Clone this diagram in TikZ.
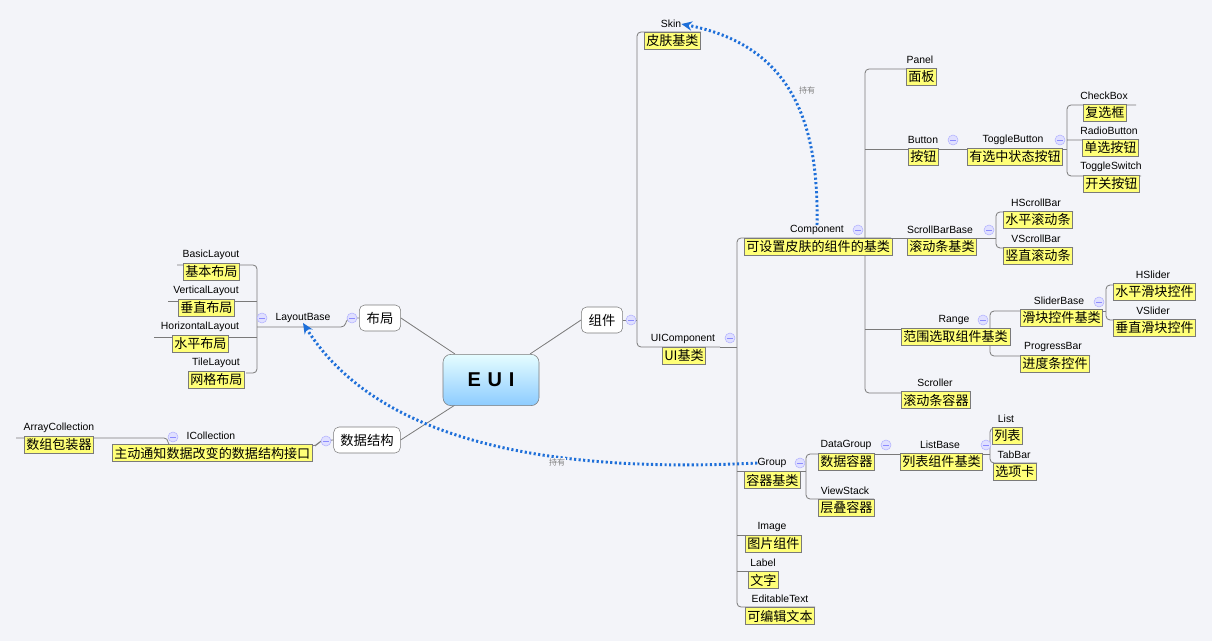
\documentclass[tikz,border=0pt]{standalone}
\usepackage{fontspec}
\setmainfont{Liberation Sans}
\newfontfamily\cjk{Noto Sans CJK SC}
\usetikzlibrary{arrows.meta}
\definecolor{bg}{HTML}{F3F4F9}
\definecolor{yel}{HTML}{FFFF78}
\definecolor{lnc}{HTML}{7A7A7A}
\definecolor{relc}{HTML}{1E6FD9}
\tikzset{
 cn/.style={draw=lnc, fill=yel, font=\cjk\fontsize{9.8}{10}\selectfont, inner xsep=1.5pt, inner ysep=1pt, anchor=west, minimum height=12.8pt},
 en/.style={font=\fontsize{7.8}{9}\selectfont, inner sep=0pt},
 ln/.style={draw=lnc, line width=0.6pt, rounded corners=3pt},
 mn/.style={draw=lnc, fill=white, rounded corners=4pt, font=\cjk\fontsize{10}{12}\selectfont, minimum height=19.5pt, inner xsep=5pt},
 cc/.style={circle, draw=blue!30, fill=blue!12, minimum size=7.5pt, inner sep=0pt, path picture={\draw[blue!45, line width=0.6pt] ([xshift=-2pt]path picture bounding box.center) -- ([xshift=2pt]path picture bounding box.center);}},
 rel/.style={draw=relc, line width=2.2pt, dash pattern=on 1.6pt off 1.8pt, -{Stealth[length=8pt,width=7pt]}},
 rl/.style={font=\cjk\fontsize{6}{7}\selectfont, text=gray, fill=bg, inner sep=0.5pt}
}
\newcommand\tp[6]{\node[cn] (#1) at (#2,#3) {#4}; \node[en] (#1e) at (#5,{#3-17}) {#6};}
\begin{document}
\begin{tikzpicture}[x=0.75pt,y=-0.75pt]
\fill[bg] (0,0) rectangle (1212,641);
\node[mn, minimum width=31pt] (zj) at (602,320) {组件};
\node[mn, minimum width=31pt] (bj) at (380,318) {布局};
\node[mn, minimum width=50pt] (sj) at (367,440) {数据结构};
\draw[lnc, line width=0.6pt] (530,354) -- (zj.west) (455,354) -- (bj.east) (455,405) -- (sj.east);
\node[draw=lnc, rounded corners=6pt, minimum width=72pt, minimum height=38.5pt, top color=blue!8!cyan!10, bottom color=blue!45!cyan!45, font=\bfseries\fontsize{15}{18}\selectfont] (eui) at (491,380) {E\,\,U\,\,I};
% lines right
\draw[ln] (zj.east) -- (637,320);
\draw[ln] (701,32) -- (637,32) -- (637,347) -- (720,347);
\draw[ln] (720,347) -- (737,347);
\draw[ln] (891,238) -- (737,238) -- (737,607) -- (815,607);
\draw[ln] (737,471) -- (806,471) (737,535) -- (801,535) (737,571) -- (779,571);
\draw[ln] (937,69) -- (865,69) -- (865,393) -- (969,393);
\draw[ln] (865,238) -- (891,238);
\draw[ln] (865,149) -- (1067,149) (865,238) -- (996,238) (865,329) -- (990,329);
\draw[ln] (1136,105) -- (1067,105) -- (1067,176) -- (1141,176) (1067,140) -- (1139,140);
\draw[ln] (1073,212) -- (996,212) -- (996,248) -- (1073,248);
\draw[ln] (1101,311) -- (990,311) -- (990,356) -- (1090,356);
\draw[ln] (1101,311) -- (1106,311);
\draw[ln] (1195,285) -- (1106,285) -- (1106,320) -- (1195,320);
\draw[ln] (875,454) -- (806,454) -- (806,499) -- (874,499);
\draw[ln] (875,454) -- (990,454);
\draw[ln] (1023,428) -- (990,428) -- (990,463) -- (1037,463);
% lines left
\draw[ln] (bj.west) -- (347,318) -- (345,327) -- (257,327);
\draw[ln] (177,265) -- (257,265) -- (257,373) -- (246,373);
\draw[ln] (168,301) -- (257,301) (154,337) -- (257,337);
\draw[ln] (sj.west) -- (320,441) -- (316,446) -- (168,446) -- (168,438) -- (16,438);
% nodes
\tp{skin}{644}{41}{皮肤基类}{671}{Skin}
\tp{uic}{662}{356}{UI基类}{683}{UIComponent}
\tp{comp}{744}{247}{可设置皮肤的组件的基类}{817}{Component}
\tp{group}{744}{480}{容器基类}{772}{Group}
\tp{image}{745}{544}{图片组件}{772}{Image}
\tp{label}{748}{580}{文字}{763}{Label}
\tp{edit}{745}{616}{可编辑文本}{780}{EditableText}
\tp{panel}{906}{77}{面板}{920}{Panel}
\tp{button}{908}{157}{按钮}{923}{Button}
\tp{sbb}{907}{247}{滚动条基类}{940}{ScrollBarBase}
\tp{range}{901}{337}{范围选取组件基类}{954}{Range}
\tp{scroller}{901}{400}{滚动条容器}{935}{Scroller}
\tp{toggle}{967}{157}{有选中状态按钮}{1013}{ToggleButton}
\tp{check}{1083}{113}{复选框}{1104}{CheckBox}
\tp{radio}{1082}{148}{单选按钮}{1109}{RadioButton}
\tp{tsw}{1083}{184}{开关按钮}{1111}{ToggleSwitch}
\tp{hsb}{1003}{220}{水平滚动条}{1036}{HScrollBar}
\tp{vsb}{1003}{256}{竖直滚动条}{1036}{VScrollBar}
\tp{slider}{1020}{318}{滑块控件基类}{1059}{SliderBase}
\tp{hsl}{1113}{292}{水平滑块控件}{1153}{HSlider}
\tp{vsl}{1113}{328}{垂直滑块控件}{1153}{VSlider}
\tp{prog}{1020}{364}{进度条控件}{1053}{ProgressBar}
\tp{dg}{818}{462}{数据容器}{846}{DataGroup}
\tp{lb}{900}{462}{列表组件基类}{940}{ListBase}
\tp{list}{992}{436}{列表}{1006}{List}
\tp{tab}{993}{472}{选项卡}{1014}{TabBar}
\tp{vs}{818}{508}{层叠容器}{845}{ViewStack}
\tp{basic}{183}{272}{基本布局}{211}{BasicLayout}
\tp{vert}{178}{308}{垂直布局}{206}{VerticalLayout}
\tp{hori}{172}{344}{水平布局}{200}{HorizontalLayout}
\tp{tile}{188}{380}{网格布局}{216}{TileLayout}
\tp{arr}{24}{445}{数组包装器}{59}{ArrayCollection}
\tp{icol}{112}{453}{主动通知数据改变的数据结构接口}{211}{ICollection}
\node[en] (lbase) at (303,318) {LayoutBase};
\foreach \p in {(631,320),(730,338),(858,230),(953,140),(1060,140),(989,230),(983,320),(1099,302),(800,463),(886,445),(986,445),(262,318),(352,318),(326,441),(173,437)}
  \node[cc] at \p {};
\draw[rel] (compe.north) .. controls (819,120) and (790,45) .. (skine.east);
\node[rl] at (807,90) {持有};
\draw[rel] (groupe.west) .. controls (520,475) and (370,430) .. (lbase.south);
\node[rl] at (557,462) {持有};
\end{tikzpicture}
\end{document}
